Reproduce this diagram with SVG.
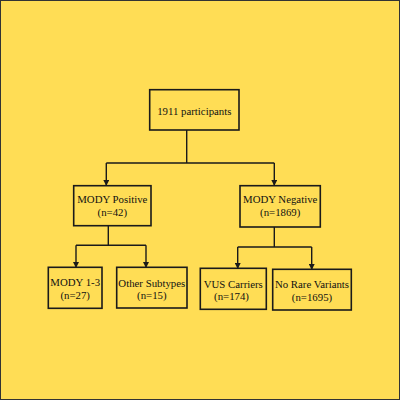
<svg xmlns="http://www.w3.org/2000/svg" width="400" height="400" viewBox="0 0 400 400">
<style>
.box{fill:#FFDD55;stroke:#1a1a1a;stroke-width:1.6}
.t{font-family:"Liberation Serif","Times New Roman",serif;font-size:10.8px;fill:#111;text-anchor:middle}
.c{fill:none;stroke:#1a1a1a;stroke-width:1.4}
</style>
<defs>
<marker id="ah" markerWidth="6" markerHeight="6" refX="5" refY="3" orient="auto" markerUnits="userSpaceOnUse">
<path d="M0,0 L6,3 L0,6 Z" fill="#1a1a1a"/>
</marker>
</defs>
<rect x="0.5" y="0.5" width="399" height="399" fill="#FFDD55" stroke="#333" stroke-width="1"/>
<g id="connectors">
<path class="c" d="M186.7,130 V163 M106.3,163 H274.3" />
<path class="c" d="M106.3,163 V185" marker-end="url(#ah)"/>
<path class="c" d="M274.3,163 V185" marker-end="url(#ah)"/>
<path class="c" d="M108.3,226 V245.3 M76,245.3 H146" />
<path class="c" d="M76,245.3 V267" marker-end="url(#ah)"/>
<path class="c" d="M146,245.3 V267" marker-end="url(#ah)"/>
<path class="c" d="M274.3,227 V247 M237.7,247 H311.7" />
<path class="c" d="M237.7,247 V268" marker-end="url(#ah)"/>
<path class="c" d="M311.7,247 V269" marker-end="url(#ah)"/>
</g>
<g id="root">
<rect class="box" x="149.7" y="89.7" width="89.3" height="40.3"/>
<text class="t" x="194.3" y="114.5">1911 participants</text>
</g>
<g id="pos">
<rect class="box" x="73.7" y="185.7" width="77.3" height="40"/>
<text class="t" x="112.3" y="203">MODY Positive</text>
<text class="t" x="112.3" y="216">(n=42)</text>
</g>
<g id="neg">
<rect class="box" x="240" y="185.7" width="80.3" height="41.3"/>
<text class="t" x="280.2" y="203">MODY Negative</text>
<text class="t" x="280.2" y="216">(n=1869)</text>
</g>
<g id="m13">
<rect class="box" x="48.3" y="267.3" width="53.7" height="41"/>
<text class="t" x="75.2" y="285.5">MODY 1-3</text>
<text class="t" x="75.2" y="298.5">(n=27)</text>
</g>
<g id="other">
<rect class="box" x="116.7" y="267.3" width="70.3" height="40.7"/>
<text class="t" x="151.8" y="286.5">Other Subtypes</text>
<text class="t" x="151.8" y="299">(n=15)</text>
</g>
<g id="vus">
<rect class="box" x="200.3" y="268.3" width="66" height="41"/>
<text class="t" x="233.3" y="287.8">VUS Carriers</text>
<text class="t" x="231.5" y="299.8">(n=174)</text>
</g>
<g id="norare">
<rect class="box" x="272.7" y="269.3" width="78.6" height="40.7"/>
<text class="t" x="312" y="288">No Rare Variants</text>
<text class="t" x="312" y="300.5">(n=1695)</text>
</g>
</svg>
